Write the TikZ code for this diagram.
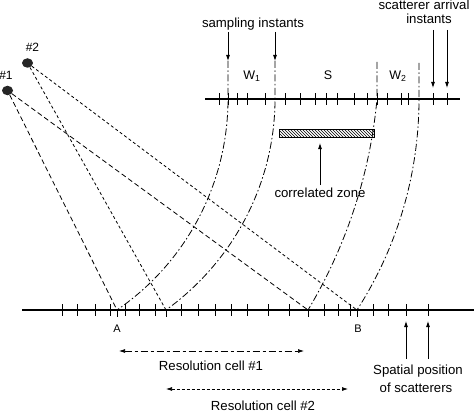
\documentclass[tikz,border=0pt]{standalone}
\usepackage{fontspec}
\setmainfont{Liberation Sans}
\usetikzlibrary{arrows.meta,patterns,shapes.geometric}
\begin{document}
\begin{tikzpicture}[x=1pt,y=-1pt,
  lbl/.style={font=\fontsize{13.2}{15}\selectfont, inner sep=0pt, anchor=base},
  small/.style={font=\fontsize{11}{13}\selectfont, inner sep=0pt, anchor=base},
  axisline/.style={line width=1.1pt},
  tickmark/.style={line width=1pt},
  thintick/.style={line width=0.6pt},
  dashA/.style={line width=0.8pt, dash pattern=on 5pt off 3pt},
  dashB/.style={line width=0.8pt, dash pattern=on 3pt off 2.5pt},
  ring/.style={line width=0.8pt, dash pattern=on 7pt off 2.5pt on 1.5pt off 2.5pt},
  arr/.style={line width=0.8pt, -{Latex[length=6pt,width=4pt]}},
  resA/.style={line width=0.7pt, dash pattern=on 7pt off 3pt on 3pt off 3pt, {Latex[length=6pt,width=4pt]}-{Latex[length=6pt,width=4pt]}},
  resB/.style={line width=0.7pt, dash pattern=on 3pt off 2pt, {Latex[length=6pt,width=4pt]}-{Latex[length=6pt,width=4pt]}},
  scat/.style={ellipse, fill=black!85, inner sep=0pt, minimum width=11pt, minimum height=9.5pt},
]
\useasboundingbox (0,0) rectangle (474,412);

% scatterers
\node[scat] (s1) at (7.5,90.5) {};
\node[scat] (s2) at (27.5,63) {};
\node[small, font=\fontsize{12}{14}\selectfont] (l1) at (6,79) {\#1};
\node[small, font=\fontsize{12}{14}\selectfont] (l2) at (32.5,52) {\#2};

% bottom axis
\coordinate (bl) at (22,310);
\coordinate (br) at (474,310);
\draw[axisline] (bl) -- (br);
\foreach \x in {62,77,95,110,125,139,155,181,198,215,231,247,268,289,324,338,350,373,388,406,428}
  \draw[tickmark] (\x,304) -- (\x,316);
\foreach \x in {117,166,308,357}
  \draw[thintick] (\x,309) -- (\x,317);
\coordinate (A) at (117,310);
\coordinate (C) at (166,310);
\coordinate (D) at (308,310);
\coordinate (B) at (357,310);
\node[small] (lA) at (117,332) {A};
\node[small] (lB) at (358,332) {B};

% top axis
\coordinate (tl) at (205,99);
\coordinate (tr) at (460,99);
\draw[axisline] (tl) -- (tr);
\foreach \x in {219,228,237,247,265,285,300,315,326,337,354,367,377,387,401,408,433,447}
  \draw[tickmark] (\x,93) -- (\x,105);
\coordinate (t1) at (228,99);  \coordinate (t1u) at (228,61);
\coordinate (t2) at (275,99);  \coordinate (t2u) at (275,61);
\coordinate (t3) at (377,99);  \coordinate (t3u) at (377,62);
\coordinate (t4) at (419,99);  \coordinate (t4u) at (419,63);

% range rings
\draw[ring] (t1u) -- (t1) .. controls +(0,84.3) and +(69.5,-47.7) .. (A);
\draw[ring] (t2u) -- (t2) .. controls +(0,83.6) and +(67.8,-48.9) .. (C);
\draw[ring] (t3u) -- (t3) .. controls +(-6.9,74.6) and +(38.5,-64.3) .. (D);
\draw[ring] (t4u) -- (t4) .. controls +(0,74.8) and +(40.5,-62.9) .. (B);

% straight paths from scatterers
\draw[dashA] (s1) -- (A);
\draw[dashA] (s1) -- (D);
\draw[dashB] (s2) -- (C);
\draw[dashB] (s2) -- (B);

% top labels and arrows
\node[lbl] (samp) at (253,28) {sampling instants};
\coordinate (sa1) at (228,32);
\coordinate (sa2) at (275,32);
\draw[arr] (sa1) -- (t1u);
\draw[arr] (sa2) -- (t2u);
\node[lbl] (arr1) at (424,10) {scatterer arrival};
\node[lbl] (arr2) at (429,24) {instants};
\coordinate (aa1) at (433,30); \coordinate (aa1e) at (433,88);
\coordinate (aa2) at (447,30); \coordinate (aa2e) at (447,88);
\draw[arr] (aa1) -- (aa1e);
\draw[arr] (aa2) -- (aa2e);
\node[lbl, font=\fontsize{12.5}{14}\selectfont] (w1) at (252,80) {W\textsubscript{1}};
\node[lbl, font=\fontsize{12.5}{14}\selectfont] (ss) at (328,80) {S};
\node[lbl, font=\fontsize{12.5}{14}\selectfont] (w2) at (398,80) {W\textsubscript{2}};

% correlated zone
\node[draw, line width=0.6pt, pattern=north west lines, inner sep=0pt,
      minimum width=95pt, minimum height=8pt] (cz) at (326.5,133) {};
\node[lbl] (czl) at (320,197) {correlated zone};
\coordinate (cza) at (320,185);
\coordinate (czb) at (320,143);
\draw[arr] (cza) -- (czb);

% resolution cells
\coordinate (r1l) at (119,351); \coordinate (r1r) at (304,351);
\draw[resA] (r1l) -- (r1r);
\node[lbl] (r1t) at (211,370) {Resolution cell \#1};
\coordinate (r2l) at (166,389); \coordinate (r2r) at (348,389);
\draw[resB] (r2l) -- (r2r);
\node[lbl] (r2t) at (263,410) {Resolution cell \#2};

% spatial positions
\coordinate (sp1) at (406,359); \coordinate (sp1e) at (406,321);
\coordinate (sp2) at (428,359); \coordinate (sp2e) at (428,321);
\draw[arr] (sp1) -- (sp1e);
\draw[arr] (sp2) -- (sp2e);
\node[lbl] (spt1) at (418,374) {Spatial position};
\node[lbl] (spt2) at (416,392) {of scatterers};
\end{tikzpicture}
\end{document}
